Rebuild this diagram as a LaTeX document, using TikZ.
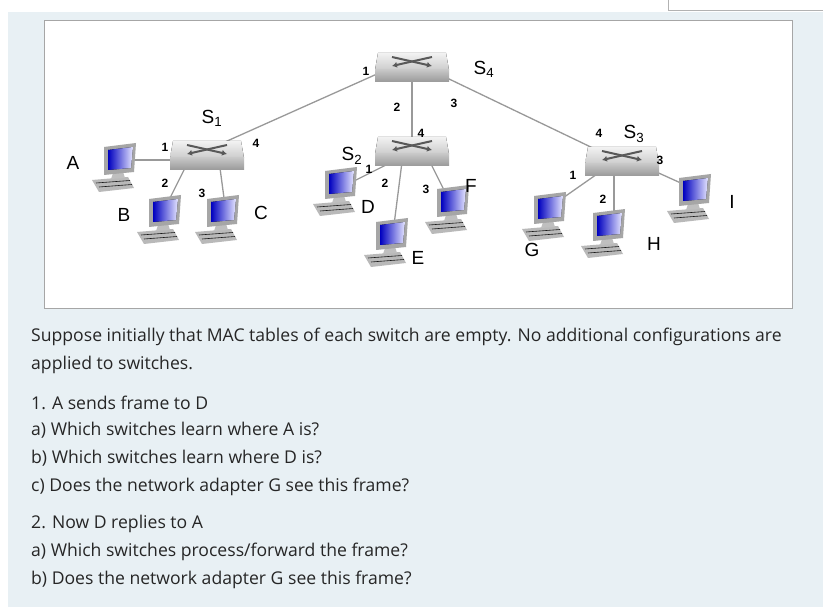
\documentclass[tikz,border=0pt]{standalone}
\usepackage{fontspec}
\setmainfont{Open Sans}
\newfontfamily\arial{Liberation Sans}
\usetikzlibrary{arrows.meta}
\begin{document}
\begin{tikzpicture}[x=1pt,y=-1pt,
  lbl/.style={font=\arial\fontsize{19}{19}\selectfont,inner sep=0pt},
  port/.style={font=\arial\bfseries\fontsize{12}{12}\selectfont,inner sep=0pt},
  link/.style={draw=gray!80,line width=1.3pt},
  qtext/.style={font=\fontsize{17.6}{20}\selectfont,anchor=west,inner sep=0pt,text=black!85}]
\useasboundingbox (0,0) rectangle (823,607);
\fill[fill={rgb,255:red,232;green,240;blue,244}] (8,12) rectangle (823,607);
\draw[gray!60] (668,0) -- (668,10) -- (823,10);
\draw[draw=gray!70,fill=white,line width=0.8pt] (44,20) rectangle (792,308);
\def\switch#1#2{%
  \node[inner sep=0pt,minimum width=74,minimum height=30] (#1) at #2 {};
  \begin{scope}[shift={#2}]
  \fill[top color=gray!10,bottom color=gray!40] (-34,-15) -- (34,-15) -- (37,2) -- (-37,2) -- cycle;
  \fill[top color=gray!45,bottom color=gray!80] (-37,2) rectangle (37,14);
  \draw[gray!70!black,line width=2pt,-{Latex[length=5pt,width=6pt]}] (-20,-11) -- (20,-2);
  \draw[gray!70!black,line width=2pt,-{Latex[length=5pt,width=6pt]}] (20,-11) -- (-20,-2);
  \end{scope}}
\def\pc#1#2{%
  \node[inner sep=0pt,minimum width=34,minimum height=34] (#1) at #2 {};
  \begin{scope}[shift={#2}]
  \fill[gray!55] (-27,19) -- (9,16) -- (15,27) -- (-20,31) -- cycle;
  \draw[gray!20!black,line width=0.6pt] (-23,22) -- (11,19.5) (-20,26) -- (13,23.5);
  \fill[gray!50] (-6,12) -- (4,11) -- (6,17) -- (-8,18) -- cycle;
  \fill[gray!70] (-15,-14) -- (17,-18) -- (15,11) -- (-15,14) -- cycle;
  \fill[left color=blue!75!black,right color=blue!10] (-11,-11) -- (14,-14) -- (12,7) -- (-11,9) -- cycle;
  \end{scope}}
% links
\draw[link] (377,74) -- (207,150);
\draw[link] (412,80) -- (412,140);
\draw[link] (447,78) -- (622,162);
\draw[link] (133,160) -- (172,160);
\draw[link] (185,168) -- (170,198);
\draw[link] (220,168) -- (224,198);
\draw[link] (392,162) -- (352,182);
\draw[link] (402,162) -- (394,225);
\draw[link] (430,162) -- (446,194);
\draw[link] (600,172) -- (560,200);
\draw[link] (614,172) -- (614,212);
\draw[link] (652,170) -- (683,184);
\switch{S4}{(412,68)}
\switch{S1}{(207,156)}
\switch{S2}{(412,152)}
\switch{S3}{(622,162)}
\pc{A}{(119,161)}
\pc{B}{(164,213)}
\pc{C}{(222,213)}
\pc{D}{(340,185)}
\pc{E}{(391,236)}
\pc{F}{(452,203)}
\pc{G}{(549,210)}
\pc{H}{(608,227)}
\pc{I}{(694,192)}
% labels
\node[lbl] at (73,163) {A};
\node[lbl] at (124,215) {B};
\node[lbl] at (261,213) {C};
\node[lbl] at (368,207) {D};
\node[lbl] at (418,258) {E};
\node[lbl] at (471,186) {F};
\node[lbl] at (532,250) {G};
\node[lbl] at (654,244) {H};
\node[lbl] at (732,202) {I};
\node[lbl] at (212,118) {S\textsubscript{1}};
\node[lbl] at (352,156) {S\textsubscript{2}};
\node[lbl] at (634,134) {S\textsubscript{3}};
\node[lbl] at (484,69) {S\textsubscript{4}};
% ports
\node[port] at (366,71) {1};
\node[port] at (397,107) {2};
\node[port] at (454,103) {3};
\node[port] at (165,147) {1};
\node[port] at (165,183) {2};
\node[port] at (202,193) {3};
\node[port] at (256,143) {4};
\node[port] at (421,133) {4};
\node[port] at (369,169) {1};
\node[port] at (385,183) {2};
\node[port] at (426,189) {3};
\node[port] at (599,133) {4};
\node[port] at (660,160) {3};
\node[port] at (573,175) {1};
\node[port] at (603,199) {2};
% text
\node[qtext] at (31,337) {Suppose initially that MAC tables of each switch are empty. No additional configurations are};
\node[qtext] at (31,365) {applied to switches.};
\node[qtext] at (31,403) {1. A sends frame to D};
\node[qtext] at (31,430) {a) Which switches learn where A is?};
\node[qtext] at (31,458) {b) Which switches learn where D is?};
\node[qtext] at (31,487) {c) Does the network adapter G see this frame?};
\node[qtext] at (31,524) {2. Now D replies to A};
\node[qtext] at (31,552) {a) Which switches process/forward the frame?};
\node[qtext] at (31,580) {b) Does the network adapter G see this frame?};
\end{tikzpicture}
\end{document}
